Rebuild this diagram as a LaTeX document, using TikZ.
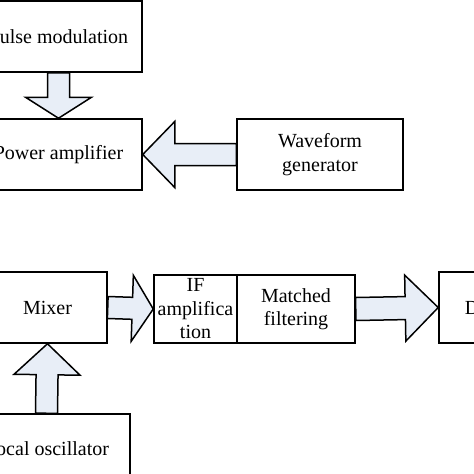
\documentclass[tikz,border=0pt]{standalone}
\usepackage{fontspec}
\setmainfont{Liberation Serif}
\usetikzlibrary{calc}
\definecolor{arrowfill}{RGB}{232,238,247}
\tikzset{
  blk/.style={draw=black, line width=1.5pt, fill=white, rectangle, inner sep=0pt, align=center,
    font=\fontsize{20}{23.5}\selectfont},
  bastyle/.style={draw=black, line width=1.5pt, fill=arrowfill, line join=miter}
}
\newcommand{\blockarrow}[5]{%
  \coordinate (ba-s) at (#1);
  \coordinate (ba-e) at (#2);
  \coordinate (ba-h) at ($(ba-e)!#5!(ba-s)$);
  \draw[bastyle] ($(ba-s)!#3!90:(ba-e)$) -- ($(ba-h)!#3!90:(ba-e)$) -- ($(ba-h)!#4!90:(ba-e)$)
    -- (ba-e) -- ($(ba-h)!#4!-90:(ba-e)$) -- ($(ba-h)!#3!-90:(ba-e)$) -- ($(ba-s)!#3!-90:(ba-e)$) -- cycle;
}
\begin{document}
\begin{tikzpicture}[x=1pt,y=-1pt]
\useasboundingbox (0,0) rectangle (474,474);
\clip (0,0) rectangle (474,474);
\fill[white] (0,0) rectangle (474,474);
% boxes
\node[blk, minimum width=167pt, minimum height=71pt] (pulse) at (58.5,36.5) {Pulse modulation};
\node[blk, minimum width=167pt, minimum height=71pt] (power) at (58.5,154.5) {Power amplifier};
\node[blk, minimum width=166pt, minimum height=71pt] (wave) at (320,154.5) {Waveform\\generator};
\node[blk, minimum width=119pt, minimum height=71pt] (mixer) at (47.5,307.5) {Mixer};
\node[blk, minimum width=83pt, minimum height=68pt] (ifamp) at (195.5,309) {IF\\amplifica\\tion};
\node[blk, minimum width=118pt, minimum height=68pt] (matched) at (296,309) {Matched\\filtering};
\node[blk, minimum width=66pt, minimum height=71pt] (dbox) at (472,307.5) {D};
\node[blk, minimum width=167pt, minimum height=70pt] (osc) at (46.5,449) {Local oscillator};
% block arrows
\blockarrow{pulse.south}{power.north}{11pt}{33pt}{21pt}
\blockarrow{wave.west}{power.east}{11pt}{33pt}{32pt}
\blockarrow{mixer.east}{ifamp.west}{11pt}{33pt}{21pt}
\blockarrow{matched.east}{dbox.west}{11.5pt}{33pt}{33pt}
\blockarrow{osc.north}{mixer.south}{11pt}{33pt}{31pt}
\end{tikzpicture}
\end{document}
